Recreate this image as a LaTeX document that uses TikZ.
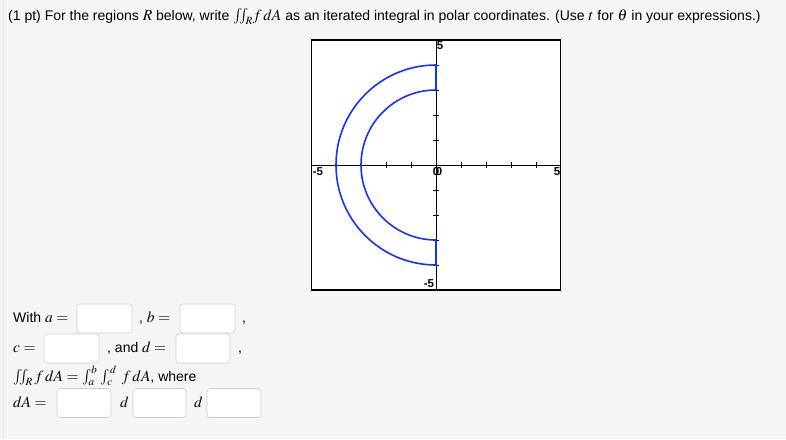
\documentclass[tikz,border=0pt]{standalone}
\usepackage{amsmath}
\usepackage{mathptmx}
\usepackage[no-math]{fontspec}
\setmainfont{Liberation Sans}
\DeclareMathSizes{14}{15.5}{11}{9}
\definecolor{bgc}{HTML}{F5F5F5}
\definecolor{edgec}{HTML}{E6E6E6}
\definecolor{boxc}{HTML}{CFCFCF}
\definecolor{curvec}{HTML}{1530FF}
\begin{document}
\begin{tikzpicture}[x=1pt,y=-1pt,
  txt/.style={anchor=base west,inner sep=0pt,font=\fontsize{14}{16}\selectfont},
  inbox/.style={draw=boxc,fill=white,rounded corners=3pt,minimum width=#1,minimum height=29pt,inner sep=0pt,line width=0.6pt},
  axlab/.style={inner sep=0pt,font=\fontsize{11.5}{11.5}\selectfont\bfseries},
  tick/.style={line width=0.7pt}]
\useasboundingbox (0,0) rectangle (786,439);
\fill[bgc] (0,0) rectangle (786,439);
\draw[edgec,line width=1pt] (3,0) -- (3,439);
% title
\node[txt] (title) at (8,20) {(1 pt) For the regions $R$ below, write $\smash{\iint_R} f\,dA$ as an iterated integral in polar coordinates. (Use $t$ for $\theta$ in your expressions.)};
% plot
\node[draw=black,fill=white,line width=1.2pt,minimum width=249pt,minimum height=250pt,inner sep=0pt] (plot) at (436,165) {};
\coordinate (O) at (436,165);
\draw[line width=0.8pt] (plot.west |- O) -- (plot.east |- O);
\draw[line width=0.8pt] (plot.north -| O) -- (plot.south -| O);
\foreach \i in {-4,-3,-2,-1,1,2,3,4}{
  \draw[tick] (436+25*\i,162) -- (436+25*\i,168);
  \draw[tick] (433,165+25*\i) -- (439,165+25*\i);
}
\node[axlab] (ytop) at (440,46) {5};
\node[axlab] (xleft) at (318,172) {-5};
\node[axlab] (o1) at (436,172) {0};
\node[axlab] (o2) at (439,172) {0};
\node[axlab] (xright) at (557,172) {5};
\node[axlab] (ybot) at (429,284) {-5};
\draw[curvec,line width=1.6pt,line join=round]
  (436,65) arc[start angle=90,end angle=270,radius=100pt]
  -- (436,240) arc[start angle=270,end angle=90,radius=75pt] -- cycle;
% answer rows
\node[txt] (r1a) at (13,322) {With $a=$};
\node[inbox=55pt] (ba) at (104.5,318.5) {};
\node[txt] (r1b) at (139,322) {, $b=$};
\node[inbox=55pt] (bb) at (207.5,318.5) {};
\node[txt] (r1c) at (242,322) {,};
\node[txt] (r2a) at (13,352) {$c=$};
\node[inbox=55pt] (bc) at (71.5,348.5) {};
\node[txt] (r2b) at (107,352) {, and $d=$};
\node[inbox=54pt] (bd) at (203,348.5) {};
\node[txt] (r2c) at (238,352) {,};
\node[txt] (r3) at (13,381) {$\iint_R f\,dA = \int_a^b\,\int_c^d\; f\,dA$, where};
\node[txt] (r4a) at (13,407) {$dA=$};
\node[inbox=54pt] (b5) at (84,403) {};
\node[txt] (r4b) at (120,407) {$d$};
\node[inbox=53pt] (b6) at (159.5,403) {};
\node[txt] (r4c) at (194,407) {$d$};
\node[inbox=54pt] (b7) at (234,403) {};
\end{tikzpicture}
\end{document}
